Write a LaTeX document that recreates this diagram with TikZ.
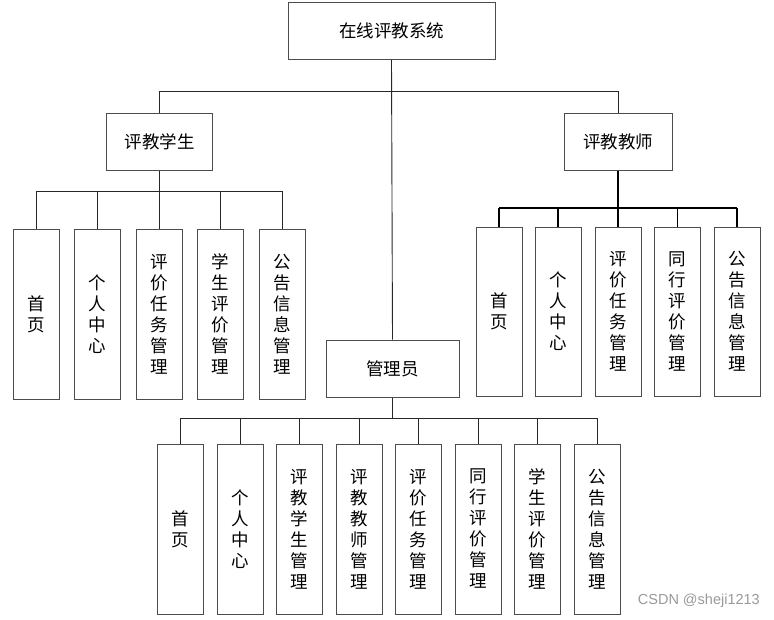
\documentclass[tikz,border=0pt]{standalone}
\usepackage{fontspec}
\setmainfont{Liberation Sans}
\newfontfamily\cjk{Noto Sans CJK SC}
\begin{document}
\begin{tikzpicture}[x=1pt,y=-1pt,
  box/.style={draw=black!70, line width=1pt, fill=white, inner sep=0pt, font=\cjk\fontsize{17.5}{21}\selectfont},
  hbox/.style={box, minimum width=106pt, minimum height=57pt},
  vbox/.style={box, minimum width=46pt, minimum height=170pt, align=center},
  conn/.style={draw=black!85, line width=0.9pt},
  thick conn/.style={draw=black, line width=1.8pt}]
\useasboundingbox (0,0) rectangle (774,619);
% top
\node[box, minimum width=207pt, minimum height=57pt] (sys) at (391.5,30.5) {在线评教系统};
\node[hbox] (stu) at (159.5,141.5) {评教学生};
\node[hbox, minimum width=108pt] (tea) at (618,141.5) {评教教师};
\node[box, minimum width=133pt, minimum height=57pt] (adm) at (392.5,368.5) {管理员};
\coordinate (tb) at (391.5,91);
\coordinate (sb) at (159.5,191);
\coordinate (eb) at (618,208);
\coordinate (ab) at (392.5,418);
% student children
\node[vbox] (s1) at (36,314) {首\\页};
\node[vbox] (s2) at (97.5,314) {个\\人\\中\\心};
\node[vbox] (s3) at (159,314) {评\\价\\任\\务\\管\\理};
\node[vbox] (s4) at (220.5,314) {学\\生\\评\\价\\管\\理};
\node[vbox] (s5) at (282,314) {公\\告\\信\\息\\管\\理};
% teacher children
\node[vbox, minimum height=169pt] (t1) at (499,311.5) {首\\页};
\node[vbox, minimum height=169pt] (t2) at (558,311.5) {个\\人\\中\\心};
\node[vbox, minimum height=169pt] (t3) at (618,311.5) {评\\价\\任\\务\\管\\理};
\node[vbox, minimum height=169pt] (t4) at (677.5,311.5) {同\\行\\评\\价\\管\\理};
\node[vbox, minimum height=169pt] (t5) at (737,311.5) {公\\告\\信\\息\\管\\理};
% admin children
\node[vbox] (a1) at (180.5,529) {首\\页};
\node[vbox] (a2) at (240,529) {个\\人\\中\\心};
\node[vbox] (a3) at (299.5,529) {评\\教\\学\\生\\管\\理};
\node[vbox] (a4) at (359,529) {评\\教\\教\\师\\管\\理};
\node[vbox] (a5) at (418.5,529) {评\\价\\任\\务\\管\\理};
\node[vbox] (a6) at (478,529) {同\\行\\评\\价\\管\\理};
\node[vbox] (a7) at (537.5,529) {学\\生\\评\\价\\管\\理};
\node[vbox] (a8) at (597,529) {公\\告\\信\\息\\管\\理};
% connectors: top level
\draw[conn] (sys.south) -- (adm.north);
\draw[conn] (stu.north |- tb) -- (tea.north |- tb);
\draw[conn] (stu.north) -- (stu.north |- tb);
\draw[conn] (tea.north) -- (tea.north |- tb);
% student
\draw[conn] (stu.south) -- (sb);
\draw[conn] (s1.north |- sb) -- (s5.north |- sb);
\foreach \n in {s1,s2,s3,s4,s5} \draw[conn] (\n.north) -- (\n.north |- sb);
% teacher
\draw[thick conn] (tea.south) -- (eb);
\draw[thick conn] (t1.north |- eb) -- (t5.north |- eb);
\foreach \n in {t1,t2,t3,t4,t5} \draw[thick conn] (\n.north) -- (\n.north |- eb);
% admin
\draw[conn] (adm.south) -- (ab);
\draw[conn] (a1.north |- ab) -- (a8.north |- ab);
\foreach \n in {a1,a2,a3,a4,a5,a6,a7,a8} \draw[conn] (\n.north) -- (\n.north |- ab);
% watermark
\node[text=black!40, font=\fontsize{14.5}{16}\selectfont, anchor=east, inner sep=0pt] (wm) at (760,601) {CSDN @sheji1213};
\end{tikzpicture}
\end{document}
